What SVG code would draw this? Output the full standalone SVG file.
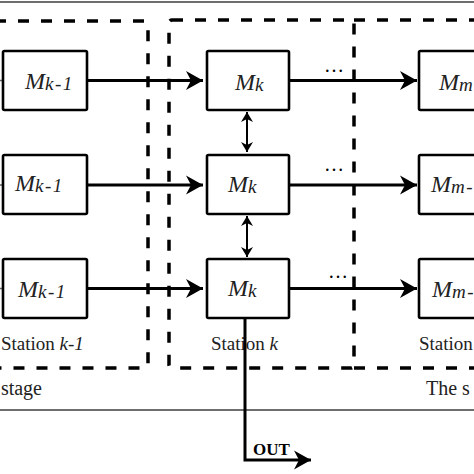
<svg xmlns="http://www.w3.org/2000/svg" width="474" height="474" viewBox="0 0 474 474">
<style>
.frame{fill:none;stroke:#555;stroke-width:1.7}
.dash{fill:none;stroke:#000;stroke-width:3.5;stroke-dasharray:11 12}
.node{fill:#fff;stroke:#000;stroke-width:2.6}
.edge{fill:none;stroke:#000;stroke-width:3}
.thin{fill:none;stroke:#000;stroke-width:2}
.stub{fill:none;stroke:#666;stroke-width:1.5}
.m{font-family:"Liberation Serif",serif;font-style:italic;font-size:24px;fill:#222}
.sub{font-size:19px;letter-spacing:1.5px}
.lbl{font-family:"Liberation Serif",serif;font-size:19px;fill:#222}
.it{font-style:italic}
.dots{font-family:"Liberation Serif",serif;font-size:20px;fill:#000}
.out{font-family:"Liberation Serif",serif;font-size:17px;font-weight:bold;fill:#000}
</style>
<defs>
<marker id="ah" markerUnits="userSpaceOnUse" markerWidth="20" markerHeight="22" viewBox="-18 -11 20 22" refX="0" refY="0" orient="auto">
<path d="M0,0 L-17,-9.5 L-12,0 L-17,9.5 Z" fill="#000"/>
</marker>
<marker id="ahs" markerUnits="userSpaceOnUse" markerWidth="12" markerHeight="14" viewBox="-11 -7 12 14" refX="0" refY="0" orient="auto-start-reverse">
<path d="M0,0 L-10,-6 L-7,0 L-10,6 Z" fill="#000"/>
</marker>
</defs>
<rect width="474" height="474" fill="#fff"/>
<g id="frame">
<rect class="frame" x="-5" y="2" width="484" height="408"/>
</g>
<g id="station-k-1">
<path class="dash" d="M-5,21 H145 Q148,21 148,24 V365 Q148,368 145,368 H-5"/>
<text class="lbl" x="1" y="350">Station <tspan class="it">k-1</tspan></text>
</g>
<g id="station-k">
<rect class="dash" x="169" y="20" width="185" height="348" rx="3"/>
<text class="lbl" x="211" y="350">Station <tspan class="it">k</tspan></text>
</g>
<g id="station-m">
<path class="dash" d="M354,20 H480 M354,368 H480"/>
<text class="lbl" x="419" y="350">Station</text>
</g>
<g id="stage-labels">
<text class="lbl" x="42" y="395" text-anchor="end" style="font-size:20px">stage</text>
<text class="lbl" x="426" y="395" style="font-size:20px">The s</text>
</g>
<g id="connectors">
<path class="stub" d="M-2,80.5 H3 M-2,185 H3 M-2,288.5 H3"/>
<path class="edge" d="M87,80.5 H203" marker-end="url(#ah)"/>
<path class="edge" d="M87,185 H203" marker-end="url(#ah)"/>
<path class="edge" d="M87,288.5 H203" marker-end="url(#ah)"/>
<path class="edge" d="M289,80.5 H417" marker-end="url(#ah)"/>
<path class="edge" d="M289,185 H417" marker-end="url(#ah)"/>
<path class="edge" d="M289,288.5 H417" marker-end="url(#ah)"/>
<path class="thin" d="M247,112 V152" marker-start="url(#ahs)" marker-end="url(#ahs)"/>
<path class="thin" d="M247,216 V257" marker-start="url(#ahs)" marker-end="url(#ahs)"/>
<path class="edge" d="M245,318 V460 H311" marker-end="url(#ah)"/>
<text class="dots" x="324" y="72">…</text>
<text class="dots" x="324" y="171">…</text>
<text class="dots" x="328" y="278">…</text>
<text class="out" x="253" y="455">OUT</text>
</g>
<g id="n-k-1-a"><rect class="node" x="3" y="51" width="84" height="59" rx="1.5"/><text class="m" x="25" y="89">M<tspan class="sub" dy="1">k-1</tspan></text></g>
<g id="n-k-1-b"><rect class="node" x="3" y="155" width="84" height="59" rx="1.5"/><text class="m" x="15" y="191">M<tspan class="sub" dy="1">k-1</tspan></text></g>
<g id="n-k-1-c"><rect class="node" x="3" y="259" width="84" height="59" rx="1.5"/><text class="m" x="18" y="297">M<tspan class="sub" dy="1">k-1</tspan></text></g>
<g id="n-k-a"><rect class="node" x="207" y="51" width="82" height="59" rx="1.5"/><text class="m" x="235" y="90">M<tspan class="sub" dy="1">k</tspan></text></g>
<g id="n-k-b"><rect class="node" x="207" y="155" width="82" height="59" rx="1.5"/><text class="m" x="228" y="192">M<tspan class="sub" dy="1">k</tspan></text></g>
<g id="n-k-c"><rect class="node" x="207" y="259" width="82" height="59" rx="1.5"/><text class="m" x="228" y="296">M<tspan class="sub" dy="1">k</tspan></text></g>
<g id="n-m-a"><rect class="node" x="419" y="51" width="70" height="59" rx="1.5"/><text class="m" x="439" y="90">M<tspan class="sub" dy="1">m</tspan></text></g>
<g id="n-m-b"><rect class="node" x="419" y="155" width="70" height="59" rx="1.5"/><text class="m" x="431" y="192">M<tspan class="sub" dy="1">m-</tspan></text></g>
<g id="n-m-c"><rect class="node" x="419" y="259" width="70" height="59" rx="1.5"/><text class="m" x="432" y="297">M<tspan class="sub" dy="1">m-</tspan></text></g>
</svg>
